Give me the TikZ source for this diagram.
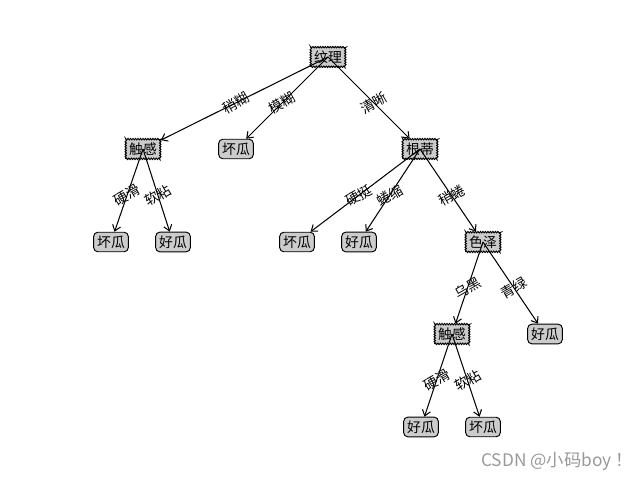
\documentclass[tikz,border=0pt]{standalone}
\usepackage{fontspec}
\setmainfont{Noto Sans CJK SC}
\usetikzlibrary{arrows.meta,decorations.pathmorphing}

\tikzset{
  decision/.style={draw, fill=black!20, line width=0.7pt, inner sep=2.5pt,
    decorate, decoration={zigzag, segment length=1.8pt, amplitude=0.5pt}},
  leaf/.style={draw, fill=black!20, line width=0.7pt, rounded corners=3pt, inner sep=2.5pt},
  edge/.style={-{Straight Barb[length=4pt,width=6pt]}, line width=0.75pt},
  edgelabel/.style={rotate=30, inner sep=0pt}
}

\begin{document}
\begin{tikzpicture}[x=0.01in, y=-0.01in]
\useasboundingbox (0,0) rectangle (640,480);
\node[decision] (wenli) at (328, 57) {纹理}; % root
\node[decision] (chugan1) at (143, 149) {触感}; 
\node[leaf] (huai1) at (236, 149) {坏瓜}; 
\node[decision] (gendi) at (420, 149) {根蒂}; 
\node[leaf] (huai2) at (111, 242) {坏瓜}; 
\node[leaf] (hao1) at (173, 242) {好瓜}; 
\node[leaf] (huai3) at (297, 242) {坏瓜}; 
\node[leaf] (hao2) at (359, 242) {好瓜}; 
\node[decision] (seze) at (483, 242) {色泽}; 
\node[decision] (chugan2) at (452, 334) {触感}; 
\node[leaf] (hao3) at (545, 334) {好瓜}; 
\node[leaf] (hao4) at (421, 427) {好瓜}; 
\node[leaf] (huai4) at (483, 427) {坏瓜}; 
\draw[edge] (wenli.center) -- (chugan1) ; % 纹理 -> 触感
\draw[edge] (wenli.center) -- (huai1) ; % 纹理 -> 坏瓜
\draw[edge] (wenli.center) -- (gendi) ; % 纹理 -> 根蒂
\draw[edge] (chugan1.center) -- (huai2) ; % 触感 -> 坏瓜
\draw[edge] (chugan1.center) -- (hao1) ; % 触感 -> 好瓜
\draw[edge] (gendi.center) -- (huai3) ; % 根蒂 -> 坏瓜
\draw[edge] (gendi.center) -- (hao2) ; % 根蒂 -> 好瓜
\draw[edge] (gendi.center) -- (seze) ; % 根蒂 -> 色泽
\draw[edge] (seze.center) -- (chugan2) ; % 色泽 -> 触感
\draw[edge] (seze.center) -- (hao3) ; % 色泽 -> 好瓜
\draw[edge] (chugan2.center) -- (hao4) ; % 触感 -> 好瓜
\draw[edge] (chugan2.center) -- (huai4) ; % 触感 -> 坏瓜
\path (wenli.center) -- (chugan1.center) node[midway, edgelabel] {稍糊}; 
\path (wenli.center) -- (huai1.center) node[midway, edgelabel] {模糊}; 
\path (wenli.center) -- (gendi.center) node[midway, edgelabel] {清晰}; 
\path (chugan1.center) -- (huai2.center) node[midway, edgelabel] {硬滑}; 
\path (chugan1.center) -- (hao1.center) node[midway, edgelabel] {软粘}; 
\path (gendi.center) -- (huai3.center) node[midway, edgelabel] {硬挺}; 
\path (gendi.center) -- (hao2.center) node[midway, edgelabel] {蜷缩}; 
\path (gendi.center) -- (seze.center) node[midway, edgelabel] {稍蜷}; 
\path (seze.center) -- (chugan2.center) node[midway, edgelabel] {乌黑}; 
\path (seze.center) -- (hao3.center) node[midway, edgelabel] {青绿}; 
\path (chugan2.center) -- (hao4.center) node[midway, edgelabel] {硬滑}; 
\path (chugan2.center) -- (huai4.center) node[midway, edgelabel] {软粘}; 
\node[text=black!40, font=\fontsize{12.5}{14}\selectfont] (mark) at (557, 461) {CSDN @小码boy ！}; % watermark
\end{tikzpicture}
\end{document}
